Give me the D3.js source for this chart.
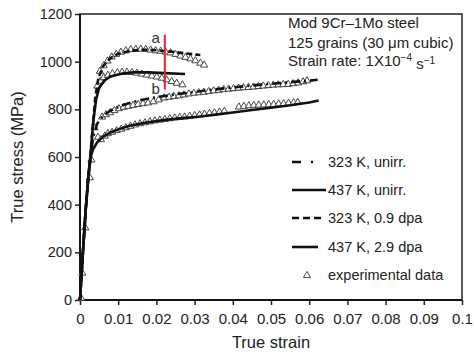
<!DOCTYPE html>
<html><head><meta charset="utf-8">
<script src="https://cdn.jsdelivr.net/npm/d3@7"></script>
<style>body{margin:0;background:#fff}svg{display:block;font-family:"Liberation Sans",Arial,sans-serif}</style>
</head><body><svg id="c" width="474" height="356"></svg>
<script>
// ---- data ----
const xTicks = [0,0.01,0.02,0.03,0.04,0.05,0.06,0.07,0.08,0.09,0.1];
const yTicks = [0,200,400,600,800,1000,1200];
const legendLabels = ["323 K, unirr.","437 K, unirr.","323 K, 0.9 dpa","437 K, 2.9 dpa","experimental data"];
const infoLines = ["Mod 9Cr\u20131Mo steel","125 grains (30 \u03bcm cubic)"];

// model curves [strain, stress]
const model437Unirr = [[0,0],[0.0008,210],[0.0015,380],[0.0022,520],[0.0028,600],[0.0033,628],[0.0045,662],[0.006,685],[0.008,703],[0.01,716],[0.013,731],[0.017,744],[0.022,755],[0.026,762],[0.031,769],[0.036,779],[0.04,787],[0.045,797],[0.05,807],[0.055,817],[0.06,829],[0.0625,837]];
const model323Unirr = [[0,0],[0.0008,210],[0.0015,380],[0.0022,520],[0.0028,600],[0.0034,680],[0.0045,740],[0.006,772],[0.008,795],[0.01,810],[0.013,827],[0.016,839],[0.02,851],[0.025,863],[0.03,873],[0.035,883],[0.04,892],[0.045,900],[0.05,907],[0.055,914],[0.06,920],[0.0622,924]];
const model323Dpa09 = [[0,0],[0.0008,210],[0.0015,380],[0.0022,520],[0.0028,620],[0.0034,740],[0.004,850],[0.0048,930],[0.006,980],[0.008,1015],[0.01,1033],[0.013,1045],[0.016,1050],[0.019,1049],[0.022,1045],[0.025,1040],[0.028,1034],[0.0315,1028]];
const model437Dpa29 = [[0,0],[0.0008,210],[0.0015,380],[0.0022,520],[0.0028,620],[0.0035,750],[0.0042,840],[0.005,890],[0.0065,922],[0.008,938],[0.011,950],[0.014,955],[0.018,955],[0.022,952],[0.0275,948]];

// experimental data [strain, stress]
const expElastic = [[0.0003,10],[0.0006,115],[0.0014,305],[0.0026,515],[0.003,590]];
const exp323Dpa09 = [[0.0052,962],[0.0062,985],[0.0072,1005],[0.0083,1022],[0.0095,1033],[0.0107,1042],[0.012,1048],[0.0133,1053],[0.0146,1054],[0.0159,1055],[0.0172,1054],[0.0185,1051],[0.0198,1048],[0.0211,1046],[0.0224,1043],[0.0237,1039],[0.025,1033],[0.0263,1026],[0.0276,1020],[0.0289,1014],[0.0302,1006],[0.0315,996],[0.0325,988]];
const exp437Dpa29 = [[0.0045,900],[0.0053,920],[0.0062,935],[0.0073,945],[0.0085,952],[0.0098,956],[0.011,958],[0.0123,958],[0.0136,957],[0.0149,954],[0.0162,950],[0.0175,946],[0.0188,942],[0.0201,938],[0.0214,933],[0.0227,926],[0.024,919],[0.0253,912],[0.0268,905]];
const exp323Unirr = [[0.0058,770],[0.0068,780],[0.0079,788],[0.009,797],[0.0102,805],[0.0114,811],[0.0126,815],[0.0139,819],[0.0152,823],[0.0165,826],[0.0178,829],[0.0192,834],[0.0206,842],[0.022,850],[0.0233,853],[0.0246,856],[0.0259,859],[0.0272,863],[0.0285,867],[0.0298,870],[0.0311,872],[0.0324,874],[0.0337,877],[0.035,880],[0.0363,882],[0.0376,885],[0.0389,887],[0.0402,889],[0.0415,891],[0.0428,893],[0.0441,894],[0.0454,896],[0.0467,898],[0.048,900],[0.0493,902],[0.0506,904],[0.0519,905],[0.0532,906],[0.0545,907],[0.0558,910],[0.0571,913],[0.0584,918],[0.0594,922]];
const exp437Unirr = [[0.0038,725],[0.0047,685],[0.0055,675],[0.0065,690],[0.0073,700],[0.0084,706],[0.0096,713],[0.0108,719],[0.012,725],[0.0132,731],[0.0144,737],[0.0157,742],[0.017,746],[0.0183,750],[0.0196,754],[0.0209,757],[0.0222,760],[0.0235,763],[0.0248,766],[0.0261,768],[0.0274,770],[0.0287,773],[0.03,776],[0.0313,779],[0.0326,782],[0.0339,785],[0.0352,788],[0.0365,791],[0.0378,794],[0.0416,812],[0.0429,815],[0.0442,817],[0.0455,819],[0.0468,820],[0.0481,821],[0.0494,822],[0.0507,823],[0.052,825],[0.0533,826],[0.0546,828],[0.0559,830],[0.057,832]];

// marker line a-b
const markerStrain = 0.0222;
const markerRange = [883, 1113];
const markerLabels = [["a",0.0198,1100],["b",0.0198,885]];

// ---- drawing ----
const svg = d3.select("#c");
const x = d3.scaleLinear().domain([0,0.1]).range([80,462]);
const y = d3.scaleLinear().domain([0,1200]).range([300,14]);
const line = d3.line().x(d=>x(d[0])).y(d=>y(d[1]));

// axes
const xa = svg.append("g").attr("transform","translate(0,300)")
  .call(d3.axisBottom(x).tickValues(xTicks).tickSize(5).tickSizeOuter(0)
    .tickFormat(d=>d===0?"0":String(+d.toFixed(2))));
xa.select(".domain").remove();
xa.selectAll("line").attr("stroke","#222").attr("stroke-width",1.5);
xa.selectAll("text").attr("font-size",15).attr("fill","#222").attr("dy","1.05em")
  .attr("font-family","Liberation Sans, Arial, sans-serif");
const ya = svg.append("g").attr("transform","translate(80,0)")
  .call(d3.axisLeft(y).tickValues(yTicks).tickSize(5).tickSizeOuter(0).tickFormat(d3.format("d")));
ya.select(".domain").remove();
ya.selectAll("line").attr("stroke","#222").attr("stroke-width",1.5);
ya.selectAll("text").attr("font-size",14.5).attr("fill","#222").attr("x",-8)
  .attr("font-family","Liberation Sans, Arial, sans-serif");

// frame
svg.append("rect").attr("x",x(0)).attr("y",y(1200)).attr("width",x(0.1)-x(0)).attr("height",y(0)-y(1200))
  .attr("fill","none").attr("stroke","#222").attr("stroke-width",1.5);
svg.append("line").attr("x1",x(0)).attr("x2",x(0)).attr("y1",y(0)).attr("y2",y(1200)).attr("stroke","#111").attr("stroke-width",2);
svg.append("line").attr("x1",x(0)).attr("x2",x(0.1)).attr("y1",y(0)).attr("y2",y(0)).attr("stroke","#111").attr("stroke-width",2);

// axis titles
svg.append("text").attr("x",271).attr("y",348).attr("text-anchor","middle").attr("font-size",16.5).attr("fill","#222").text("True strain");
svg.append("text").attr("transform","translate(17,157) rotate(-90)").attr("text-anchor","middle").attr("dy","0.35em").attr("font-size",16.5).attr("fill","#222").text("True stress (MPa)");

// triangles
const tri = d3.symbol().type(d3.symbolTriangle).size(22);
const allExp = [expElastic, exp323Dpa09, exp437Dpa29, exp323Unirr, exp437Unirr];
allExp.forEach(s=>{
  svg.append("g").selectAll("path").data(s).join("path")
    .attr("d",tri).attr("transform",d=>`translate(${x(d[0])},${y(d[1])+0.5})`)
    .attr("fill","#fff").attr("stroke","#333").attr("stroke-width",0.9);
});

// model lines
const styles = [
  [model323Unirr,"9,4,2,4",2.6],
  [model437Unirr,null,2.6],
  [model323Dpa09,"6,3",2.6],
  [model437Dpa29,null,2.6]
];
styles.forEach(([d,dash,w])=>{
  const p = svg.append("path").datum(d).attr("d",line).attr("fill","none").attr("stroke","#111").attr("stroke-width",w);
  if(dash) p.attr("stroke-dasharray",dash);
});

// red marker
svg.append("line").attr("x1",x(markerStrain)).attr("x2",x(markerStrain)).attr("y1",y(markerRange[0])).attr("y2",y(markerRange[1]))
  .attr("stroke","#e8212b").attr("stroke-width",2);
svg.selectAll(".ml").data(markerLabels).join("text").attr("x",d=>x(d[1])).attr("y",d=>y(d[2]))
  .attr("text-anchor","middle").attr("dy","0.35em").attr("font-size",15).attr("fill","#333").text(d=>d[0]);

// info text
const info = svg.append("g").attr("font-size",15).attr("fill","#222");
infoLines.forEach((t,i)=>info.append("text").attr("x",288).attr("y",23+i*20).attr("dy","0.35em").text(t));
const sr = info.append("text").attr("x",288).attr("y",61).attr("dy","0.35em");
sr.append("tspan").text("Strain rate: 1X10");
sr.append("tspan").attr("font-size",10).attr("dy","-0.55em").text("\u2212");
sr.append("tspan").attr("font-size",10).text("4");
sr.append("tspan").attr("dy","0.55em").text(" s");
sr.append("tspan").attr("font-size",10).attr("dy","-0.55em").text("\u22121");

// legend
const lg = svg.append("g");
const ly = [162,190,218,247,275];
legendLabels.forEach((t,i)=>{
  lg.append("text").attr("x",328).attr("y",ly[i]).attr("dy","0.35em").attr("font-size",14.5).attr("fill","#222").text(t);
});
lg.append("line").attr("x1",292).attr("x2",316).attr("y1",ly[0]).attr("y2",ly[0]).attr("stroke","#111").attr("stroke-width",2.6).attr("stroke-dasharray","9,10,2,10");
lg.append("line").attr("x1",292).attr("x2",326).attr("y1",ly[1]).attr("y2",ly[1]).attr("stroke","#111").attr("stroke-width",2.6);
lg.append("line").attr("x1",292).attr("x2",323).attr("y1",ly[2]).attr("y2",ly[2]).attr("stroke","#111").attr("stroke-width",2.6).attr("stroke-dasharray","7,4");
lg.append("line").attr("x1",292).attr("x2",318).attr("y1",ly[3]).attr("y2",ly[3]).attr("stroke","#111").attr("stroke-width",2.6);
lg.append("path").attr("d",tri).attr("transform",`translate(307,${ly[4]+0.5})`).attr("fill","#fff").attr("stroke","#333").attr("stroke-width",0.9);
</script></body></html>
